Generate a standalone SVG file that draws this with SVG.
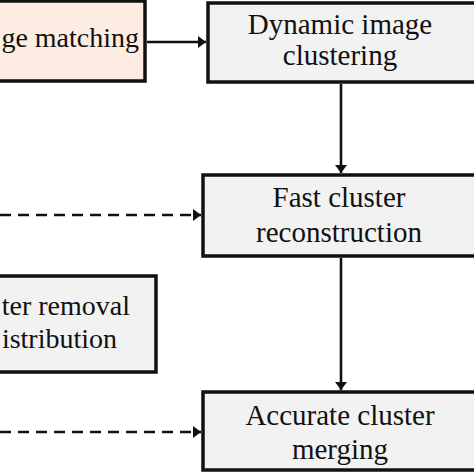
<svg xmlns="http://www.w3.org/2000/svg" width="474" height="474" viewBox="0 0 474 474">
<style>
.box{stroke:#111;stroke-width:3.5;}
.gray{fill:#f2f2f2;}
.orange{fill:#fcece2;}
.t{font-family:"Liberation Serif","Times New Roman",serif;font-size:29px;fill:#111;}
.l{font-size:28px;}
.c{fill:none;stroke:#111;stroke-width:2.6;}
.d{stroke-dasharray:11,7;}
</style>
<defs>
<marker id="ah" viewBox="0 0 8 12" refX="8" refY="6" markerWidth="8" markerHeight="12" orient="auto" markerUnits="userSpaceOnUse">
<path d="M0,0 L8,6 L0,12 z" fill="#111"/>
</marker>
</defs>
<g id="n-matching">
<rect class="box orange" x="-10" y="1" width="155" height="80"/>
<text class="t l" x="139" y="47" text-anchor="end">ge matching</text>
</g>
<g id="n-dynamic">
<rect class="box gray" x="208" y="3" width="280" height="79"/>
<text class="t" x="340" y="34" text-anchor="middle">Dynamic image</text>
<text class="t" x="340" y="65" text-anchor="middle">clustering</text>
</g>
<g id="n-fast">
<rect class="box gray" x="203" y="175" width="285" height="81"/>
<text class="t" x="339" y="207" text-anchor="middle">Fast cluster</text>
<text class="t" x="339" y="242" text-anchor="middle">reconstruction</text>
</g>
<g id="n-removal">
<rect class="box gray" x="-10" y="276" width="166" height="96"/>
<text class="t l" x="130" y="315" text-anchor="end">ter removal</text>
<text class="t l" x="117" y="348" text-anchor="end">istribution</text>
</g>
<g id="n-accurate">
<rect class="box gray" x="203" y="392" width="285" height="78"/>
<text class="t" x="340" y="425" text-anchor="middle">Accurate cluster</text>
<text class="t" x="340" y="459" text-anchor="middle">merging</text>
</g>
<g id="connectors">
<line class="c" x1="147" y1="42" x2="206" y2="42" marker-end="url(#ah)"/>
<line class="c" x1="341" y1="84" x2="341" y2="173" marker-end="url(#ah)"/>
<line class="c" x1="341" y1="258" x2="341" y2="390" marker-end="url(#ah)"/>
<line class="c d" x1="0" y1="215" x2="201" y2="215" marker-end="url(#ah)"/>
<line class="c d" x1="0" y1="432" x2="201" y2="432" marker-end="url(#ah)"/>
</g>
</svg>
